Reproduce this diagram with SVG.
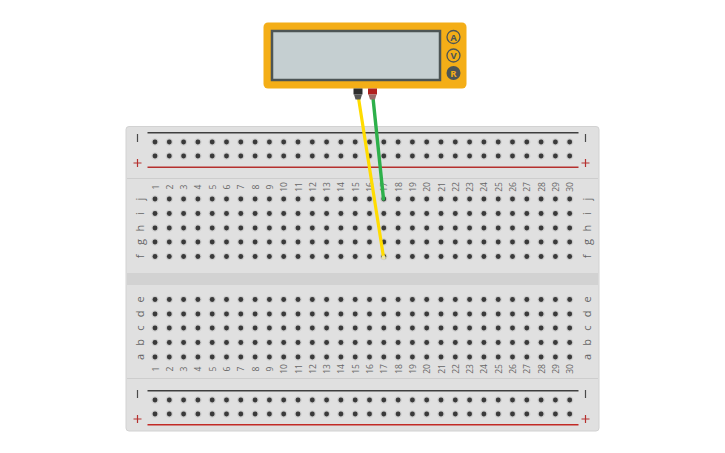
<svg xmlns="http://www.w3.org/2000/svg" xmlns:xlink="http://www.w3.org/1999/xlink" width="725" height="453" viewBox="0 0 725 453">
<style>
.lb{font-family:"Open Sans","Liberation Sans",sans-serif;font-size:8.5px;fill:#666;text-anchor:middle;dominant-baseline:central}
.lt{font-size:11px}
.mk{font-family:"Open Sans","Liberation Sans",sans-serif;font-size:9.5px;font-weight:700;fill:#4d5555;text-anchor:middle;dominant-baseline:central}
</style>
<defs>
<radialGradient id="halo"><stop offset="0.45" stop-color="#b8b8b8"/><stop offset="1" stop-color="#e0e0e0"/></radialGradient>
<g id="hole"><circle r="4.2" fill="url(#halo)"/><circle r="2.4" fill="#3a3a3a"/></g>
<g id="row">
<use href="#hole" x="155"/><use href="#hole" x="169.3"/><use href="#hole" x="183.6"/><use href="#hole" x="197.9"/><use href="#hole" x="212.2"/><use href="#hole" x="226.5"/><use href="#hole" x="240.8"/><use href="#hole" x="255.1"/><use href="#hole" x="269.4"/><use href="#hole" x="283.7"/><use href="#hole" x="298"/><use href="#hole" x="312.3"/><use href="#hole" x="326.6"/><use href="#hole" x="340.9"/><use href="#hole" x="355.2"/><use href="#hole" x="369.5"/><use href="#hole" x="383.8"/><use href="#hole" x="398.1"/><use href="#hole" x="412.4"/><use href="#hole" x="426.7"/><use href="#hole" x="441"/><use href="#hole" x="455.3"/><use href="#hole" x="469.6"/><use href="#hole" x="483.9"/><use href="#hole" x="498.2"/><use href="#hole" x="512.5"/><use href="#hole" x="526.8"/><use href="#hole" x="541.1"/><use href="#hole" x="555.4"/><use href="#hole" x="569.7"/>
</g>
<g id="nums">
<text class="lb" transform="translate(155,0) rotate(-90)">1</text><text class="lb" transform="translate(169.3,0) rotate(-90)">2</text><text class="lb" transform="translate(183.6,0) rotate(-90)">3</text><text class="lb" transform="translate(197.9,0) rotate(-90)">4</text><text class="lb" transform="translate(212.2,0) rotate(-90)">5</text><text class="lb" transform="translate(226.5,0) rotate(-90)">6</text><text class="lb" transform="translate(240.8,0) rotate(-90)">7</text><text class="lb" transform="translate(255.1,0) rotate(-90)">8</text><text class="lb" transform="translate(269.4,0) rotate(-90)">9</text><text class="lb" transform="translate(283.7,0) rotate(-90)">10</text><text class="lb" transform="translate(298,0) rotate(-90)">11</text><text class="lb" transform="translate(312.3,0) rotate(-90)">12</text><text class="lb" transform="translate(326.6,0) rotate(-90)">13</text><text class="lb" transform="translate(340.9,0) rotate(-90)">14</text><text class="lb" transform="translate(355.2,0) rotate(-90)">15</text><text class="lb" transform="translate(369.5,0) rotate(-90)">16</text><text class="lb" transform="translate(383.8,0) rotate(-90)">17</text><text class="lb" transform="translate(398.1,0) rotate(-90)">18</text><text class="lb" transform="translate(412.4,0) rotate(-90)">19</text><text class="lb" transform="translate(426.7,0) rotate(-90)">20</text><text class="lb" transform="translate(441,0) rotate(-90)">21</text><text class="lb" transform="translate(455.3,0) rotate(-90)">22</text><text class="lb" transform="translate(469.6,0) rotate(-90)">23</text><text class="lb" transform="translate(483.9,0) rotate(-90)">24</text><text class="lb" transform="translate(498.2,0) rotate(-90)">25</text><text class="lb" transform="translate(512.5,0) rotate(-90)">26</text><text class="lb" transform="translate(526.8,0) rotate(-90)">27</text><text class="lb" transform="translate(541.1,0) rotate(-90)">28</text><text class="lb" transform="translate(555.4,0) rotate(-90)">29</text><text class="lb" transform="translate(569.7,0) rotate(-90)">30</text>
</g>
<g id="letters1">
<text class="lb lt" transform="translate(0,199) rotate(-90)">j</text><text class="lb lt" transform="translate(0,213.5) rotate(-90)">i</text><text class="lb lt" transform="translate(0,228) rotate(-90)">h</text><text class="lb lt" transform="translate(0,242) rotate(-90)">g</text><text class="lb lt" transform="translate(0,256.5) rotate(-90)">f</text>
<text class="lb lt" transform="translate(0,299.5) rotate(-90)">e</text><text class="lb lt" transform="translate(0,314) rotate(-90)">d</text><text class="lb lt" transform="translate(0,328) rotate(-90)">c</text><text class="lb lt" transform="translate(0,342.5) rotate(-90)">b</text><text class="lb lt" transform="translate(0,357) rotate(-90)">a</text>
</g>
</defs>
<rect width="725" height="453" fill="#fff"/>
<g id="breadboard">
<rect x="126" y="126.500" width="473" height="304.500" rx="3" fill="#e0e0e0" stroke="#d2d2d2"/>
<rect x="127" y="178" width="471" height="1" fill="#cdcdcd"/>
<rect x="127" y="378" width="471" height="1" fill="#cdcdcd"/>
<rect x="127" y="273" width="471" height="12" fill="#d2d2d2"/>
<rect x="147.500" y="132" width="431" height="1.500" fill="#3e3e3e"/>
<rect x="147.500" y="166.500" width="431" height="1.500" fill="#b5302e"/>
<rect x="147.500" y="390" width="431" height="1.500" fill="#3e3e3e"/>
<rect x="147.500" y="424" width="431" height="1.500" fill="#c22a26"/>
<path d="M137.500 134v8M585.500 134v8M137.500 390v8M585.500 390v8" stroke="#4a4a4a" stroke-width="1.200" fill="none"/>
<path d="M133.500 163h8M137.500 159v8M581.500 163h8M585.500 159v8M133.500 419h8M137.500 415v8M581.500 419h8M585.500 415v8" stroke="#b5302e" stroke-width="1.200" fill="none"/>
<use href="#row" y="142"/><use href="#row" y="156"/>
<use href="#row" y="199"/><use href="#row" y="213.500"/><use href="#row" y="228"/><use href="#row" y="242"/><use href="#row" y="256.500"/>
<use href="#row" y="299.500"/><use href="#row" y="314"/><use href="#row" y="328"/><use href="#row" y="342.500"/><use href="#row" y="357"/>
<use href="#row" y="400"/><use href="#row" y="414"/>
<use href="#nums" y="187"/><use href="#nums" y="369"/>
<use href="#letters1" x="139"/><use href="#letters1" x="586"/>
</g>
<g id="multimeter">
<rect x="263.500" y="22.500" width="203" height="66" rx="4.500" fill="#f4ae17"/>
<rect x="272" y="31" width="168" height="49" fill="#c5cfd1" stroke="#4d5555" stroke-width="2.500"/>
<circle cx="453.500" cy="37" r="6.500" fill="none" stroke="#4d5555" stroke-width="1.300"/>
<circle cx="453.500" cy="55.500" r="6.500" fill="none" stroke="#4d5555" stroke-width="1.300"/>
<circle cx="453.500" cy="73" r="7" fill="#4d5555"/>
<text class="mk" x="453.500" y="37">A</text>
<text class="mk" x="453.500" y="55.500">V</text>
<text class="mk" x="453.500" y="73" style="fill:#f4ae17">R</text>
</g>
<g id="connectors" fill="none" stroke-linecap="round">
<path d="M373 98L383.500 199" stroke="#2db04a" stroke-width="3.400"/>
<path d="M358.500 98L383.500 257" stroke="#ffdc00" stroke-width="3.200"/>
<circle cx="383.700" cy="257.500" r="2" fill="#e8e4a8"/>
</g>
<g id="probe-black"><rect x="353.500" y="88.500" width="9" height="6" fill="#2d2d2d"/><path d="M354 94.500h8l-1.500 5h-5z" fill="#555"/></g>
<g id="probe-red"><rect x="368" y="88.500" width="9" height="6" fill="#b0201e"/><path d="M368.500 94.500h8l-1.500 5h-5z" fill="#9a6a68"/></g>
</svg>
